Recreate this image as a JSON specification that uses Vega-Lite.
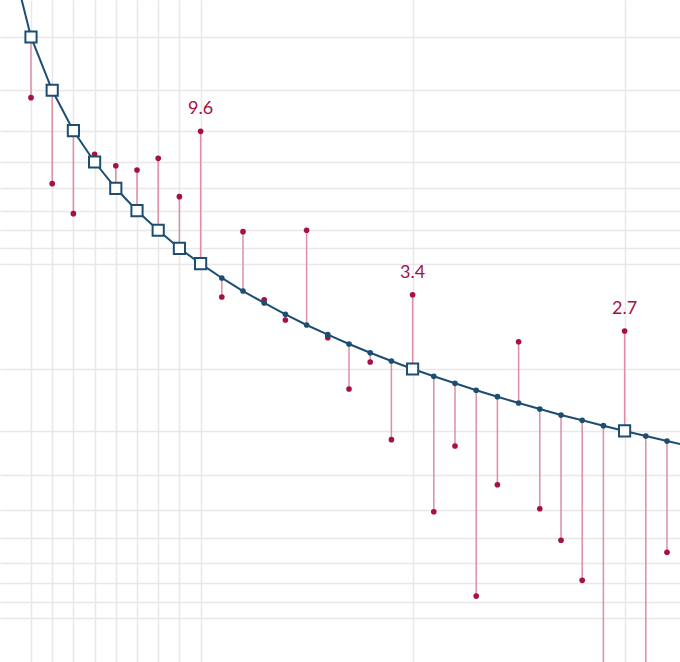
{
  "$schema": "https://vega.github.io/schema/vega-lite/v6.json",
  "width": 680,
  "height": 662,
  "autosize": {"type": "fit", "contains": "padding"},
  "padding": 0,
  "background": "#ffffff",
  "config": {
    "view": {"stroke": null},
    "axis": {
      "grid": true,
      "gridColor": "#e8e8e8",
      "gridWidth": 1.5,
      "labels": false,
      "ticks": false,
      "domain": false,
      "title": null
    }
  },
  "data": {
    "values": [
      {"n": 1, "fit": 29.85},
      {"n": 2, "fit": 17.48, "actual": 11.89},
      {"n": 3, "fit": 12.46, "actual": 6.884},
      {"n": 4, "fit": 9.637, "actual": 5.689},
      {"n": 5, "fit": 7.899, "actual": 8.293},
      {"n": 6, "fit": 6.685, "actual": 7.716},
      {"n": 7, "fit": 5.799, "actual": 7.508},
      {"n": 8, "fit": 5.120, "actual": 8.085},
      {"n": 9, "fit": 4.566, "actual": 6.338},
      {"n": 10, "fit": 4.141, "actual": 9.6, "label": "9.6"},
      {"n": 11, "fit": 3.782, "actual": 3.351},
      {"n": 12, "fit": 3.481, "actual": 5.074},
      {"n": 13, "fit": 3.226, "actual": 3.294},
      {"n": 14, "fit": 3.002, "actual": 2.895},
      {"n": 15, "fit": 2.805, "actual": 5.120},
      {"n": 16, "fit": 2.638, "actual": 2.588},
      {"n": 17, "fit": 2.486, "actual": 1.868},
      {"n": 18, "fit": 2.352, "actual": 2.218},
      {"n": 19, "fit": 2.232, "actual": 1.354},
      {"n": 20, "fit": 2.121, "actual": 3.4, "label": "3.4"},
      {"n": 21, "fit": 2.025, "actual": 0.8567},
      {"n": 22, "fit": 1.937, "actual": 1.301},
      {"n": 23, "fit": 1.853, "actual": 0.5014},
      {"n": 24, "fit": 1.779, "actual": 1.017},
      {"n": 25, "fit": 1.709, "actual": 2.522},
      {"n": 26, "fit": 1.645, "actual": 0.8733},
      {"n": 27, "fit": 1.583, "actual": 0.7146},
      {"n": 28, "fit": 1.531, "actual": 0.5541},
      {"n": 29, "fit": 1.480, "actual": 0.25},
      {"n": 30, "fit": 1.431, "actual": 2.7, "label": "2.7"},
      {"n": 31, "fit": 1.386, "actual": 0.28},
      {"n": 32, "fit": 1.342, "actual": 0.6621},
      {"n": 33, "fit": 1.301}
    ]
  },
  "encoding": {
    "x": {
      "field": "n",
      "type": "quantitative",
      "scale": {"domain": [0.5377, 32.613], "nice": false, "zero": false},
      "axis": {"values": [2, 3, 4, 5, 6, 7, 8, 9, 10, 20, 30]}
    },
    "y": {
      "field": "fit",
      "type": "quantitative",
      "scale": {"type": "log", "domain": [0.32981, 22.108], "nice": false},
      "axis": {
        "values": [17.48, 12.46, 9.637, 7.899, 6.685, 5.799, 5.120, 4.566, 4.141, 2.121, 1.431, 1.082, 0.8677, 0.7266, 0.6197, 0.5447, 0.4837, 0.4369]
      }
    }
  },
  "layer": [
    {
      "transform": [{"filter": "isValid(datum.actual)"}],
      "mark": {"type": "rule", "color": "#dc8ea4", "strokeWidth": 1.5, "clip": true},
      "encoding": {"y2": {"field": "actual"}}
    },
    {
      "transform": [{"filter": "isValid(datum.actual)"}],
      "mark": {"type": "circle", "color": "#a51140", "size": 32, "opacity": 1, "clip": true},
      "encoding": {"y": {"field": "actual", "type": "quantitative"}}
    },
    {
      "mark": {"type": "line", "color": "#1d4e72", "strokeWidth": 2, "clip": true},
      "encoding": {}
    },
    {
      "transform": [{"filter": "datum.n > 10 && datum.n != 20 && datum.n != 30 && datum.n < 33"}],
      "mark": {"type": "circle", "color": "#1d4e72", "size": 32, "opacity": 1, "clip": true},
      "encoding": {}
    },
    {
      "transform": [{"filter": "(datum.n >= 2 && datum.n <= 10) || datum.n == 20 || datum.n == 30"}],
      "mark": {"type": "point", "shape": "square", "filled": true, "fill": "#ffffff", "stroke": "#1d4e72", "strokeWidth": 2, "size": 125, "opacity": 1, "clip": true},
      "encoding": {}
    },
    {
      "transform": [{"filter": "isValid(datum.label)"}],
      "mark": {"type": "text", "color": "#a51140", "font": "Lato", "fontSize": 18, "baseline": "alphabetic", "align": "center", "dy": -17},
      "encoding": {
        "y": {"field": "actual", "type": "quantitative"},
        "text": {"field": "label"}
      }
    }
  ]
}
